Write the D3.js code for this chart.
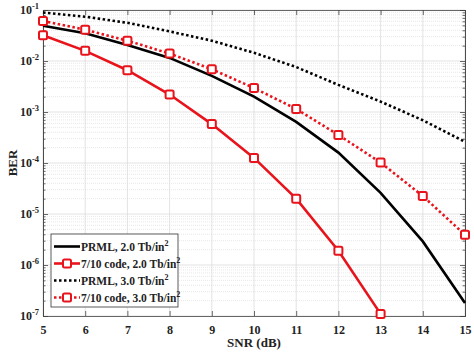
<!DOCTYPE html>
<html>
<head>
<meta charset="UTF-8">
<script src="https://d3js.org/d3.v7.min.js"></script>
<style>
  body { margin: 0; background: #fff; }
  text { font-family: "Liberation Serif", "Times New Roman", serif; font-weight: bold; fill: #222; }
</style>
</head>
<body>
<svg id="chart" width="474" height="352"></svg>
<script>
// SNR (dB)
const snr = [5, 6, 7, 8, 9, 10, 11, 12, 13, 14, 15];
const prml20 = [4.9e-2, 3.5e-2, 2.05e-2, 1.15e-2, 5.1e-3, 2.0e-3, 6.4e-4, 1.6e-4, 2.6e-5, 2.9e-6, 1.8e-7];
const code20 = [3.2e-2, 1.58e-2, 6.6e-3, 2.2e-3, 5.8e-4, 1.26e-4, 2.0e-5, 1.9e-6, 1.1e-7];
const prml30 = [8.9e-2, 7.4e-2, 5.6e-2, 3.8e-2, 2.5e-2, 1.45e-2, 7.6e-3, 3.4e-3, 1.6e-3, 6.9e-4, 2.6e-4];
const code30 = [6.1e-2, 4.1e-2, 2.5e-2, 1.4e-2, 6.9e-3, 2.95e-3, 1.15e-3, 3.55e-4, 1.02e-4, 2.25e-5, 3.9e-6];
const yTicks = [-7, -6, -5, -4, -3, -2, -1];

const series = [
  { name: "PRML, 2.0 Tb/in", y: prml20, color: "#000", dash: null, marker: false },
  { name: "7/10 code, 2.0 Tb/in", y: code20, color: "#e8131b", dash: null, marker: true },
  { name: "PRML, 3.0 Tb/in", y: prml30, color: "#000", dash: "2.5,2.5", marker: false },
  { name: "7/10 code, 3.0 Tb/in", y: code30, color: "#e8131b", dash: "2.5,2.5", marker: true }
];

const m = { left: 43, right: 465, top: 10, bottom: 316 };
const svg = d3.select("#chart");

const x = d3.scaleLinear().domain([5, 15]).range([m.left, m.right]);
const y = d3.scaleLog().domain([1e-7, 1e-1]).range([m.bottom, m.top]);

// grid
const minor = [];
for (let e = -7; e < -1; e++) for (let k = 2; k <= 9; k++) minor.push(k * Math.pow(10, e));
svg.append("g").selectAll("line").data(minor).join("line")
  .attr("x1", m.left).attr("x2", m.right)
  .attr("y1", d => y(d)).attr("y2", d => y(d))
  .attr("stroke", "#e2e2e2").attr("stroke-width", 0.8).attr("stroke-dasharray", "1,1");
svg.append("g").selectAll("line").data(yTicks).join("line")
  .attr("x1", m.left).attr("x2", m.right)
  .attr("y1", d => y(Math.pow(10, d))).attr("y2", d => y(Math.pow(10, d)))
  .attr("stroke", "#dcdcdc").attr("stroke-width", 0.8);
svg.append("g").selectAll("line").data(snr).join("line")
  .attr("x1", d => x(d)).attr("x2", d => x(d))
  .attr("y1", m.top).attr("y2", m.bottom)
  .attr("stroke", "#dcdcdc").attr("stroke-width", 0.8);

// axes (ticks inward, box)
const xb = svg.append("g").attr("transform", `translate(0,${m.bottom})`)
  .call(d3.axisBottom(x).tickValues(snr).tickSize(-5).tickPadding(9).tickFormat(d3.format("d")));
const xt = svg.append("g").attr("transform", `translate(0,${m.top})`)
  .call(d3.axisTop(x).tickValues(snr).tickSize(-5).tickFormat(""));
const yl = svg.append("g").attr("transform", `translate(${m.left},0)`)
  .call(d3.axisLeft(y).tickValues(yTicks.map(e => Math.pow(10, e))).tickSize(-5).tickPadding(5).tickFormat(""));
const yr = svg.append("g").attr("transform", `translate(${m.right},0)`)
  .call(d3.axisRight(y).tickValues(yTicks.map(e => Math.pow(10, e))).tickSize(-5).tickFormat(""));
svg.append("g").attr("transform", `translate(${m.left},0)`)
  .call(d3.axisLeft(y).tickValues(minor).tickSize(-2.5).tickFormat(""));
svg.append("g").attr("transform", `translate(${m.right},0)`)
  .call(d3.axisRight(y).tickValues(minor).tickSize(-2.5).tickFormat(""));
svg.selectAll(".domain").attr("stroke", "#444").attr("stroke-width", 0.8);
svg.selectAll(".tick line").attr("stroke", "#444").attr("stroke-width", 0.8);
xb.selectAll("text").style("font-size", "12px").attr("fill", "#222");

// y tick labels 10^n
yTicks.forEach(e => {
  const t = svg.append("text")
    .attr("x", m.left - 4).attr("y", y(Math.pow(10, e)) + 4)
    .attr("text-anchor", "end").style("font-size", "12px");
  t.append("tspan").text("10");
  t.append("tspan").attr("dy", -5).style("font-size", "8.5px").text(e);
});

// axis titles
svg.append("text").attr("x", (m.left + m.right) / 2).attr("y", 347)
  .attr("text-anchor", "middle").style("font-size", "13px").text("SNR (dB)");
svg.append("text").attr("transform", `translate(17,${(m.top + m.bottom) / 2}) rotate(-90)`)
  .attr("text-anchor", "middle").style("font-size", "13px").text("BER");

// curves
const line = d3.line().x((d, i) => x(snr[i])).y(d => y(d));
function marker(g, cx, cy, color) {
  g.append("rect").attr("x", cx - 4).attr("y", cy - 4).attr("width", 8).attr("height", 8)
    .attr("rx", 1.5).attr("fill", "#fff").attr("stroke", color).attr("stroke-width", 2);
}
series.forEach(s => {
  svg.append("path").datum(s.y).attr("d", line)
    .attr("fill", "none").attr("stroke", s.color).attr("stroke-width", 2.6)
    .attr("stroke-dasharray", s.dash);
  if (s.marker) {
    const g = svg.append("g");
    s.y.forEach((v, i) => marker(g, x(snr[i]), y(v), s.color));
  }
});

// legend
const lg = svg.append("g").attr("transform", "translate(51,234)");
lg.append("rect").attr("width", 127).attr("height", 73)
  .attr("fill", "#fff").attr("stroke", "#333").attr("stroke-width", 0.8);
series.forEach((s, i) => {
  const yy = 12.5 + i * 17;
  lg.append("line").attr("x1", 3).attr("x2", 29).attr("y1", yy).attr("y2", yy)
    .attr("stroke", s.color).attr("stroke-width", 2.6).attr("stroke-dasharray", s.dash);
  if (s.marker) marker(lg, 16, yy, s.color);
  const t = lg.append("text").attr("x", 30).attr("y", yy + 4).style("font-size", "11.5px");
  t.append("tspan").text(s.name);
  t.append("tspan").attr("dy", -5).style("font-size", "8px").text("2");
});
</script>
</body>
</html>
